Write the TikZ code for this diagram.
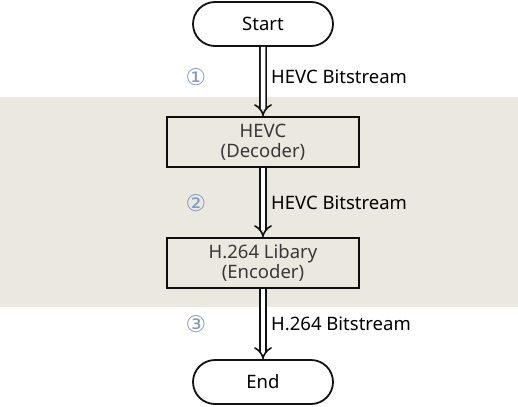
\documentclass[tikz,border=0pt]{standalone}
\usepackage{fontspec}
\setmainfont{Noto Sans}
\newfontfamily\symfont{DejaVu Sans}
\usetikzlibrary{arrows.meta,shapes.misc}
\definecolor{band}{HTML}{EBE8E0}
\definecolor{numc}{HTML}{7F9CC0}
\definecolor{ink}{HTML}{111111}
\tikzset{
  term/.style={draw=ink, line width=1.8pt, rounded rectangle, minimum width=140pt, minimum height=44pt, font=\fontsize{18.5}{21}\selectfont, inner sep=0pt},
  proc/.style={draw=ink!85!black, line width=1.8pt, rectangle, minimum width=192pt, minimum height=50pt, align=center, font=\fontsize{18.5}{20}\selectfont, text=black!78, inner sep=0pt},
  flow/.style={draw=ink, double=white, double distance=4.5pt, line width=1.6pt, -{Implies[length=8pt]}},
  lab/.style={anchor=west, font=\fontsize{18.5}{21}\selectfont, inner sep=0pt},
  num/.style={font=\symfont\fontsize{23}{25}\selectfont, text=numc, inner sep=0pt}
}
\begin{document}
\begin{tikzpicture}[x=1pt,y=-1pt]
\useasboundingbox (0,0) rectangle (518,406);
\fill[band] (0,97) rectangle (518,307);
\node[term] (start) at (263,24) {Start};
\node[proc] (dec) at (263,142) {HEVC\\(Decoder)};
\node[proc] (enc) at (263,263) {H.264 Libary\\(Encoder)};
\node[term] (end) at (263,382) {End};
\draw[flow] (start) -- (dec);
\draw[flow] (dec) -- (enc);
\draw[flow] (enc) -- (end);
\node[lab] (l1) at (271,77) {HEVC Bitstream};
\node[lab] (l2) at (271,203) {HEVC Bitstream};
\node[lab] (l3) at (271,324) {H.264 Bitstream};
\node[num] (n1) at (196,77) {①};
\node[num] (n2) at (196,203) {②};
\node[num] (n3) at (196,324) {③};
\end{tikzpicture}
\end{document}
